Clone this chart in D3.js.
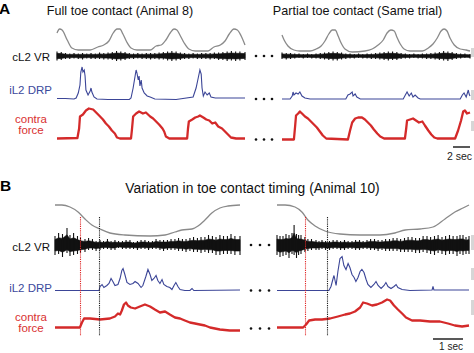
<!DOCTYPE html>
<head>
<meta charset="utf-8">
<style>
  body { margin: 0; background: #fff; font-family: "Liberation Sans", Arial, Helvetica, sans-serif; }
  svg { display: block; }
  .kin { fill: none; stroke: #8a8a8a; stroke-width: 1.3; }
  .drp { fill: none; stroke: #3b4597; stroke-width: 1.1; }
  .force { fill: none; stroke: #d42a2a; stroke-width: 2.3; stroke-linejoin: round; }
  .vr { fill: #111; stroke: #111; stroke-width: 0.6; }
  .vr-hair { stroke: #111; stroke-width: 1.1; }
</style>
</head>
<body>
<script src="https://d3js.org/d3.v7.min.js"></script>
<script>
// time in seconds, values in arbitrary units (pixel-ish amplitude)
var titlesA = ["Full toe contact (Animal 8)", "Partial toe contact (Same trial)"];
var titleB = "Variation in toe contact timing (Animal 10)";
var rowLabels = ["cL2 VR", "iL2 DRP", "contra", "force"];
var scaleBarA = 2, scaleBarB = 1;

// ---- panel A, left segment
var kinAL = [[0,19],[0.3,23],[0.6,22],[1.2,12],[1.75,4],[2.5,2],[3.9,2],[4.8,5],[5.5,7],[6.1,11],[6.6,19],[7.05,23],[7.4,23],[7.75,18],[8.2,10],[8.7,4],[9.4,2],[10.95,2],[11.65,6],[12.25,7],[12.8,12],[13.3,19],[13.75,23],[14.1,22],[14.45,17],[14.95,9],[15.5,3],[16.25,1],[17.75,1],[18.45,5],[19.2,7],[19.75,11],[20.25,18],[20.8,23],[21.2,22],[21.65,16],[22.1,7]];
var vrAL = [[0,4.5,-4.5],[0.5,4,-4],[1,3,-3],[1.5,2.5,-3],[2,3,-2.5],[2.5,2.5,-3],[3,3,-3.5],[3.5,2.5,-2.5],[4,3,-3],[4.5,2.5,-3],[5,3.5,-3],[5.5,3,-3.5],[6,3.5,-3.5],[6.5,4,-4],[7,5,-5],[7.5,4.5,-4.5],[8,4,-4],[8.5,3,-3],[9,2.5,-3],[9.5,3,-2.5],[10,2.5,-3],[10.5,3,-3],[11,3,-3.5],[11.5,3,-3],[12,3.5,-3.5],[12.5,4,-3.5],[13,4.5,-4.5],[13.5,5,-5],[14,4.5,-4.5],[14.5,3.5,-4],[15,3,-3],[15.5,2.5,-3],[16,3,-2.5],[16.5,2.5,-3],[17,3,-3],[17.5,3,-3],[18,3,-3.5],[18.5,3.5,-3],[19,3.5,-4],[19.5,4,-4],[20,4.5,-5],[20.5,5,-4.5],[21,4.5,-5],[21.5,4.5,-4.5],[22.1,4,-4]];
var drpAL = [[0,0.5],[1,0.5],[2,0],[2.25,1],[2.5,6],[2.7,14],[2.8,27],[2.95,32],[3.05,27],[3.2,29],[3.3,23],[3.4,9],[3.65,4],[3.9,8],[4,11],[4.1,7],[4.35,2],[4.7,0],[6,-0.5],[8.5,-0.5],[8.7,1],[8.95,11],[9.2,24],[9.3,29],[9.4,26],[9.55,19],[9.65,23],[9.75,13],[9.9,19],[10,11],[10.25,6],[10.6,3],[10.95,2],[11.5,0],[14,-0.5],[16,2],[16.35,11],[16.6,21],[16.8,29],[16.95,25],[17.05,11],[17.2,3],[17.4,7],[17.65,4],[17.9,6],[18.1,2],[18.6,1],[20.35,1],[22.1,1]];
var forceAL = [[0,0],[2.4,0.5],[2.6,10],[2.7,22],[3.05,24],[3.4,28],[3.75,30],[4.25,29],[4.6,26],[4.95,23],[5.4,19],[5.75,15],[6.1,12],[6.45,8],[6.8,5],[7.05,1],[7.4,0],[8.7,0],[8.8,8],[8.95,22],[9.3,25],[9.65,27],[10.1,25],[10.45,26],[10.95,22],[11.3,20],[11.65,17],[12,14],[12.4,10],[12.6,7],[12.8,2],[13.2,0],[15.3,0],[15.4,10],[15.5,17],[15.9,19],[16.25,21],[16.6,22],[16.8,23],[17.2,21],[17.55,19],[17.9,18],[18.25,15],[18.6,16],[18.95,12],[19.4,10],[19.75,7],[20.1,4],[20.45,1],[21.05,0],[22.1,0]];

// ---- panel A, right segment
var kinAR = [[0,17],[0.25,12],[0.7,6],[1.4,2],[2.1,1],[3.3,1],[4,3],[4.6,6],[5.05,11],[5.5,18],[5.9,22],[6.25,22],[6.6,16],[6.95,9],[7.4,3],[8.25,0],[9.75,1],[10.6,3],[11.3,7],[11.9,12],[12.35,19],[12.8,22],[13.2,21],[13.5,15],[13.9,8],[14.35,3],[15.05,1],[16.5,1],[17.2,4],[17.75,8],[18.25,14],[18.7,21],[19.05,23],[19.4,21],[19.75,14],[20.25,7],[20.95,3],[21.65,2],[22.1,1]];
var vrAR = [[0,3.5,-3],[0.5,3,-3.5],[1,3,-3],[1.5,2.5,-2.5],[2,2.5,-2],[2.5,2,-2.5],[3,2.5,-2],[3.5,2,-2.5],[4,2.5,-2.5],[4.5,3,-3],[5,3.5,-3.5],[5.5,4,-4],[6,4.5,-4.5],[6.5,4,-4.5],[7,3.5,-3.5],[7.5,2.5,-3],[8,2.5,-2.5],[8.5,2,-2.5],[9,2.5,-2],[9.5,2,-2.5],[10,2.5,-2.5],[10.5,2.5,-3],[11,3,-3],[11.5,3.5,-3.5],[12,4,-4],[12.5,4.5,-4.5],[13,4.5,-4],[13.5,4,-4],[14,3,-3],[14.5,2.5,-2.5],[15,2,-2.5],[15.5,2.5,-2],[16,2,-2.5],[16.5,2.5,-2.5],[17,2.5,-3],[17.5,3,-3],[18,3.5,-3.5],[18.5,4,-4],[19,5,-4.5],[19.5,4.5,-5],[20,4,-4],[20.5,3,-3],[21,2.5,-2.5],[21.5,2.5,-2],[22.1,2,-2.5]];
var drpAR = [[0,0],[0.95,0],[1.2,3],[1.3,7],[1.4,4],[1.65,6],[1.9,5],[2.1,7],[2.35,3],[2.7,1],[3.3,0],[7.5,0],[7.75,4],[8,5],[8.25,7],[8.35,3],[8.6,5],[8.8,2],[9.2,0],[14.25,0],[14.5,4],[14.7,7],[14.95,3],[15.2,6],[15.4,2],[15.65,4],[16,1],[16.25,0],[20.95,0],[21.2,4],[21.4,6],[21.65,2],[21.9,9],[22,5],[22.1,3]];
var forceAR = [[0,-1],[1.4,-1],[1.55,13],[1.65,23],[1.9,25],[2.1,27],[2.35,25],[2.7,22],[3.05,20],[3.4,17],[3.75,14],[4.1,11],[4.45,7],[4.8,3],[5.2,0],[7.75,-1],[8,8],[8.25,16],[8.6,20],[8.95,21],[9.4,21],[9.75,19],[10.1,16],[10.45,13],[10.8,9],[11.2,5],[11.55,2],[12,0],[14.45,0],[14.6,10],[14.7,18],[15.05,19],[15.4,20],[15.75,18],[16.1,16],[16.5,17],[16.8,13],[17.2,8],[17.55,4],[17.9,1],[18.25,0],[20.35,0],[20.7,8],[21.05,18],[21.3,27],[21.5,28],[21.75,25],[22.1,26]];

// ---- panel B, left segment
var kinBL = [[0,31],[0.23,31],[0.5,29],[0.77,24],[1,17],[1.23,11],[1.5,7],[1.83,3],[2.33,1],[3.17,0],[3.67,1],[4,4],[4.23,6],[4.57,7],[4.77,10],[5,16],[5.23,23],[5.5,28],[5.77,30],[6.17,31]];
var vrBL = [[0,9,-10],[0.12,12,-9],[0.25,11,-12],[0.4,17,-8],[0.5,10,-11],[0.62,12,-10],[0.75,9,-9],[0.85,7,-8],[1,6,-7],[1.12,7,-5],[1.25,6,-5],[1.37,4,-6],[1.5,5,-5],[1.62,4,-4],[1.75,6,-4],[1.87,4,-5],[2,5,-5],[2.12,4,-3],[2.25,4,-4],[2.37,5,-4],[2.5,5,-4],[2.62,3,-4],[2.75,4,-5],[2.87,5,-4],[3,5,-4],[3.12,4,-5],[3.25,4,-4],[3.37,6,-4],[3.5,5,-5],[3.62,5,-6],[3.75,5,-5],[3.87,6,-5],[4,6,-5],[4.12,7,-6],[4.25,6,-6],[4.37,6,-7],[4.5,7,-6],[4.62,8,-7],[4.75,7,-7],[4.87,8,-8],[5,8,-7],[5.12,10,-8],[5.25,9,-8],[5.37,8,-10],[5.5,10,-10],[5.62,9,-9],[5.75,9,-9],[5.87,11,-9],[6,9,-10],[6.17,9,-10]];
var drpBL = [[0,0],[1.33,0],[1.47,0],[1.5,4],[1.57,6],[1.63,3],[1.73,5],[1.8,7],[1.87,12],[1.93,9],[2,5],[2.1,6],[2.17,12],[2.23,20],[2.27,22],[2.33,16],[2.4,8],[2.5,6],[2.6,7],[2.67,9],[2.77,7],[2.87,3],[2.93,5],[3.03,14],[3.1,21],[3.17,16],[3.23,10],[3.3,12],[3.37,15],[3.43,10],[3.5,7],[3.57,11],[3.63,6],[3.73,4],[3.83,3],[3.9,1],[3.97,5],[4.03,8],[4.1,4],[4.17,1],[4.33,0],[4.5,0],[4.57,2],[4.63,0],[6.17,0.5]];
var forceBL = [[0,0],[0.83,0],[0.9,5],[0.97,9],[1.17,9],[1.5,8],[1.83,9],[2,11],[2.1,14],[2.17,13],[2.23,17],[2.3,23],[2.37,25],[2.43,22],[2.53,20],[2.67,19],[2.83,21],[3,23],[3.17,21],[3.33,18],[3.5,15],[3.67,16],[3.83,13],[4,10],[4.17,9],[4.33,7],[4.5,5],[4.67,4],[4.83,3],[5,2],[5.17,0],[5.5,-2],[5.83,-3],[6.17,-3]];

// ---- panel B, right segment
var kinBR = [[0,31],[0.27,31],[0.6,29],[0.83,24],[1.03,16],[1.27,10],[1.6,5],[2.1,2],[2.77,1],[3.43,1],[3.93,3],[4.27,6],[4.77,7],[5.2,9],[5.6,17],[5.93,24],[6.2,28],[6.4,31]];
var vrBR = [[0,10,-10],[0.1,9,-12],[0.2,9,-11],[0.3,11,-10],[0.4,10,-13],[0.5,12,-9],[0.57,20,-10],[0.65,11,-13],[0.72,10,-10],[0.8,10,-9],[0.93,8,-7],[1.03,6,-6],[1.15,6,-5],[1.3,5,-5],[1.4,4,-5],[1.5,5,-4],[1.62,4,-5],[1.75,4,-5],[1.87,5,-4],[2,5,-4],[2.12,4,-5],[2.25,5,-5],[2.37,4,-4],[2.5,4,-4],[2.62,5,-5],[2.75,5,-5],[2.87,4,-4],[3,5,-4],[3.12,6,-5],[3.25,6,-5],[3.37,5,-6],[3.5,5,-5],[3.62,6,-6],[3.75,6,-6],[3.87,7,-6],[4,7,-6],[4.12,6,-7],[4.25,7,-7],[4.37,8,-7],[4.5,8,-7],[4.62,7,-8],[4.75,7,-8],[4.87,9,-7],[5,9,-8],[5.12,8,-9],[5.25,9,-10],[5.37,10,-8],[5.5,8,-9],[5.62,9,-10],[5.75,10,-9],[5.87,9,-9],[6,9,-11],[6.1,10,-9],[6.2,10,-10],[6.3,8,-9],[6.4,9,-9]];
var drpBR = [[0,0],[1.73,0],[1.8,4],[1.87,12],[1.9,15],[1.97,5],[2.03,19],[2.1,32],[2.17,34],[2.23,25],[2.3,21],[2.37,27],[2.43,23],[2.5,16],[2.57,13],[2.63,9],[2.7,13],[2.77,19],[2.83,21],[2.9,18],[2.97,11],[3.03,6],[3.13,3],[3.23,6],[3.3,9],[3.37,5],[3.47,2],[3.57,5],[3.63,8],[3.7,4],[3.8,2],[3.9,4],[3.97,6],[4.03,3],[4.17,1],[4.43,0],[5.17,0.5],[5.2,4],[5.23,0.5],[6.4,0.5]];
var forceBR = [[0,0],[0.87,0],[0.97,3],[1.07,7],[1.27,8],[1.5,8],[1.77,9],[2.03,11],[2.27,13],[2.43,14],[2.6,16],[2.77,20],[2.87,25],[3,24],[3.17,22],[3.33,23],[3.5,25],[3.67,28],[3.77,27],[3.9,22],[4.03,18],[4.17,14],[4.3,10],[4.5,7],[4.77,7],[5.1,6],[5.43,6],[5.7,4],[5.93,2],[6.17,1],[6.4,2]];

// contact markers (s): [red dotted, black dotted]
var markBL = [0.83, 1.47];
var markBR = [0.93, 1.67];

var W = 474, H = 353;
var svg = d3.select("body").append("svg").attr("width", W).attr("height", H);

var panels = [
  {
    rows: {
      kin: d3.scaleLinear().domain([0, 24]).range([52, 28]),
      vr: d3.scaleLinear().domain([-10, 10]).range([66, 46]),
      drp: d3.scaleLinear().domain([0, 32]).range([99, 67]),
      force: d3.scaleLinear().domain([0, 30]).range([138.5, 108.5])
    },
    segs: [
      {x: d3.scaleLinear().domain([0, 22.1]).range([57, 245]), kin: kinAL, vr: vrAL, drp: drpAL, force: forceAL},
      {x: d3.scaleLinear().domain([0, 22.1]).range([282, 470]), kin: kinAR, vr: vrAR, drp: drpAR, force: forceAR}
    ],
    dotsX: [256, 264, 272],
    labelY: [57, 90, 119, 130],
    calib: [[48, 57], [90, 100], [121, 131]]
  },
  {
    rows: {
      kin: d3.scaleLinear().domain([0, 31]).range([236, 205]),
      vr: d3.scaleLinear().domain([-10, 10]).range([255, 235]),
      drp: d3.scaleLinear().domain([0, 34]).range([290.5, 256.5]),
      force: d3.scaleLinear().domain([0, 28]).range([327.5, 299.5])
    },
    segs: [
      {x: d3.scaleLinear().domain([0, 6.17]).range([55, 240]), kin: kinBL, vr: vrBL, drp: drpBL, force: forceBL, marks: markBL},
      {x: d3.scaleLinear().domain([0, 6.4]).range([277, 469]), kin: kinBR, vr: vrBR, drp: drpBR, force: forceBR, marks: markBR}
    ],
    dotsX: [251, 260, 269],
    labelY: [247, 288, 316.5, 328],
    calib: [[235, 250], [268, 280], [300, 315]]
  }
];

panels.forEach(function(p) {
  var g = svg.append("g");
  p.segs.forEach(function(s) {
    var line = function(ys, curve) {
      return d3.line().curve(curve || d3.curveLinear)
        .x(function(d) { return s.x(d[0]); })
        .y(function(d) { return ys(d[1]); });
    };

    g.append("path").attr("class", "kin")
      .attr("d", line(p.rows.kin, d3.curveMonotoneX)(s.kin));

    // nerve recording: dense core plus hair-like excursions at each read sample
    g.append("path").attr("class", "vr")
      .attr("d", d3.area()
        .x(function(d) { return s.x(d[0]); })
        .y0(function(d) { return p.rows.vr(d[2] * 0.6); })
        .y1(function(d) { return p.rows.vr(d[1] * 0.6); })(s.vr));
    g.selectAll(null).data(s.vr).enter().append("line")
      .attr("class", "vr-hair")
      .attr("x1", function(d) { return s.x(d[0]); })
      .attr("x2", function(d) { return s.x(d[0]); })
      .attr("y1", function(d) { return p.rows.vr(d[1]); })
      .attr("y2", function(d) { return p.rows.vr(d[2]); });

    g.append("path").attr("class", "drp")
      .attr("d", line(p.rows.drp)(s.drp));

    g.append("path").attr("class", "force")
      .attr("d", line(p.rows.force)(s.force));

    if (s.marks) {
      g.selectAll(null).data(s.marks).enter().append("line")
        .attr("x1", function(d) { return Math.round(s.x(d)) + 0.5; })
        .attr("x2", function(d) { return Math.round(s.x(d)) + 0.5; })
        .attr("y1", 217).attr("y2", 336)
        .attr("stroke", function(d, i) { return i == 0 ? "#e02828" : "#222"; })
        .attr("stroke-width", 1.1)
        .attr("stroke-dasharray", "1.2,1");
    }
  });

  // "..." between segments
  var dotRows = [p.rows.vr(0), p.rows.drp(0), p.rows.force(0) + 1];
  dotRows.forEach(function(y) {
    g.selectAll(null).data(p.dotsX).enter().append("circle")
      .attr("cx", function(d) { return d; })
      .attr("cy", y)
      .attr("r", 1.3)
      .attr("fill", "#111");
  });

  // faint calibration marks at right edge
  g.selectAll(null).data(p.calib).enter().append("rect")
    .attr("x", 471).attr("width", 3)
    .attr("y", function(d) { return d[0]; })
    .attr("height", function(d) { return d[1] - d[0]; })
    .attr("fill", "#d6d6d6");

  // row labels
  g.append("text").attr("x", 50).attr("y", p.labelY[0]).attr("dy", "0.35em")
    .attr("text-anchor", "end").attr("font-size", 11.5).attr("fill", "#111").text(rowLabels[0]);
  g.append("text").attr("x", 52).attr("y", p.labelY[1]).attr("dy", "0.35em")
    .attr("text-anchor", "end").attr("font-size", 11.5).attr("fill", "#3b4a9c").text(rowLabels[1]);
  g.append("text").attr("x", 31).attr("y", p.labelY[2]).attr("dy", "0.35em")
    .attr("text-anchor", "middle").attr("font-size", 11.5).attr("fill", "#d93030").text(rowLabels[2]);
  g.append("text").attr("x", 31).attr("y", p.labelY[3]).attr("dy", "0.35em")
    .attr("text-anchor", "middle").attr("font-size", 11.5).attr("fill", "#d93030").text(rowLabels[3]);
});

// titles and panel letters
svg.append("text").attr("x", -1).attr("y", 13.5).attr("font-size", 15.5).attr("font-weight", "bold").text("A");
svg.append("text").attr("x", 0).attr("y", 190.5).attr("font-size", 15.5).attr("font-weight", "bold").text("B");
svg.append("text").attr("x", 120).attr("y", 14.5).attr("text-anchor", "middle").attr("font-size", 12.6).attr("fill", "#111").text(titlesA[0]);
svg.append("text").attr("x", 357.5).attr("y", 14.5).attr("text-anchor", "middle").attr("font-size", 12.6).attr("fill", "#111").text(titlesA[1]);
svg.append("text").attr("x", 252.5).attr("y", 193).attr("text-anchor", "middle").attr("font-size", 13.8).attr("fill", "#111").text(titleB);

// scale bars
var xa = panels[0].segs[1].x, xb = panels[1].segs[1].x;
svg.append("line").attr("x1", xa(22.1 - scaleBarA)).attr("x2", xa(22.1)).attr("y1", 147).attr("y2", 147)
  .attr("stroke", "#222").attr("stroke-width", 1.5);
svg.append("text").attr("x", 447).attr("y", 160).attr("font-size", 10.5).attr("fill", "#222").text(scaleBarA + " sec");
svg.append("line").attr("x1", xb(6.2 - scaleBarB)).attr("x2", xb(6.2)).attr("y1", 339).attr("y2", 339)
  .attr("stroke", "#222").attr("stroke-width", 1.5);
svg.append("text").attr("x", (xb(6.2 - scaleBarB) + xb(6.2)) / 2 + 3).attr("y", 350).attr("text-anchor", "middle")
  .attr("font-size", 10).attr("fill", "#222").text(scaleBarB + " sec");
</script>
</body>
